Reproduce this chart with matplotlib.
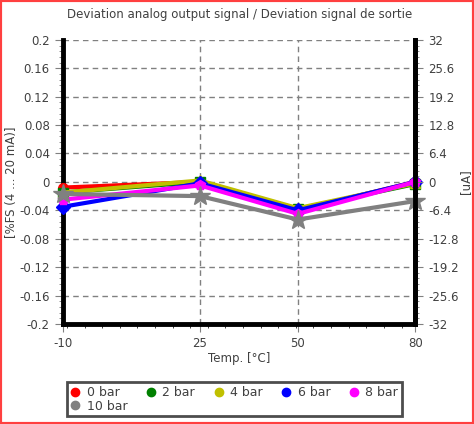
import numpy as np
import matplotlib
matplotlib.use("Agg")
import matplotlib.pyplot as plt
from matplotlib.patches import Rectangle
from matplotlib.ticker import MultipleLocator, AutoMinorLocator

plt.rcParams['font.family'] = ['DejaVu Sans']

temps = [-10, 25, 50, 80]
labels = ['0 bar', '2 bar', '4 bar', '6 bar', '8 bar', '10 bar']
colors = ['#ff0000', '#008000', '#c0c000', '#0000ff', '#ff00ff', '#808080']
markers = ['o', 's', '^', 'D', 'p', '*']
dev_0 = [-0.008, 0.000, -0.040, 0.000]
dev_2 = [-0.015, 0.000, -0.038, -0.003]
dev_4 = [-0.015, 0.002, -0.037, -0.002]
dev_6 = [-0.035, -0.002, -0.040, 0.000]
dev_8 = [-0.025, -0.005, -0.045, 0.000]
dev_10 = [-0.017, -0.020, -0.053, -0.027]
series = [dev_0, dev_2, dev_4, dev_6, dev_8, dev_10]

txt = '#404040'
fs = 8.5
fig = plt.figure(figsize=(4.74, 4.24), dpi=100)
ax = fig.add_axes([0.133, 0.236, 0.743, 0.670])

for vals, lab, c, m in zip(series, labels, colors, markers):
    ax.plot(temps, vals, color=c, lw=3, marker=m, ms=7 if m != '*' else 15,
            label=lab, clip_on=False, zorder=3)

ax.set_xlim(-10, 80)
ax.set_ylim(-0.2, 0.2)
ax.set_xticks(temps)
ax.set_xticklabels([str(t) for t in temps])
ax.yaxis.set_major_locator(MultipleLocator(0.04))
ax.set_yticklabels([f'{v:g}' if abs(v) > 1e-9 else '0' for v in ax.get_yticks()])
ax.yaxis.set_minor_locator(AutoMinorLocator(5))
ax.xaxis.set_minor_locator(MultipleLocator(4.5))
ax.grid(True, which='major', ls=(0, (4, 3)), color='#808080', lw=1)

for s in ['left', 'right', 'bottom']:
    ax.spines[s].set_linewidth(3.5)
ax.spines['top'].set_visible(False)
ax.tick_params(which='major', length=6, color='#808080', labelsize=fs, labelcolor=txt)
ax.tick_params(which='minor', length=3, color='#808080')
ax.tick_params(axis='x', which='minor', color='#202020')
ax.set_xlabel('Temp. [°C]', fontsize=fs, color=txt, labelpad=1)
ax.set_ylabel('[%FS (4 ... 20 mA)]', fontsize=fs, color=txt, labelpad=1)
ax.set_title('Deviation analog output signal / Deviation signal de sortie',
             fontsize=fs, color=txt, pad=16)

ax2 = ax.twinx()
ax2.set_ylim(-32, 32)
ax2.yaxis.set_major_locator(MultipleLocator(6.4))
ax2.set_yticklabels([f'{v:g}' if abs(v) > 1e-9 else '0' for v in ax2.get_yticks()])
ax2.yaxis.set_minor_locator(AutoMinorLocator(5))
for s in ['left', 'top', 'bottom']:
    ax2.spines[s].set_visible(False)
ax2.spines['right'].set_linewidth(3.5)
ax2.tick_params(which='major', length=6, color='#808080', labelsize=fs, labelcolor=txt)
ax2.tick_params(which='minor', length=3, color='#808080')
ax2.set_ylabel('[uA]', fontsize=fs, color=txt, labelpad=0)

handles, labs = ax.get_legend_handles_labels()
order = [0, 5, 1, 2, 3, 4]
leg = fig.legend([handles[i] for i in order], [labs[i] for i in order],
                 loc='lower center', bbox_to_anchor=(0.494, 0.003),
                 ncol=5, fontsize=fs + 0.5, frameon=True, fancybox=False,
                 handlelength=0.8, handletextpad=0.5, columnspacing=1.5,
                 labelspacing=0.05, borderpad=0.3)
for h in leg.legend_handles:
    h.set_linestyle('None')
    h.set_marker('o')
    h.set_markersize(6)
leg.get_frame().set_edgecolor('#202020')
leg.get_frame().set_linewidth(2)
for t in leg.get_texts():
    t.set_color(txt)

fig.patches.append(Rectangle((0, 0), 1, 1, transform=fig.transFigure,
                             fill=False, edgecolor='#ff4040', lw=3))
fig.savefig('out.png', dpi=100)
